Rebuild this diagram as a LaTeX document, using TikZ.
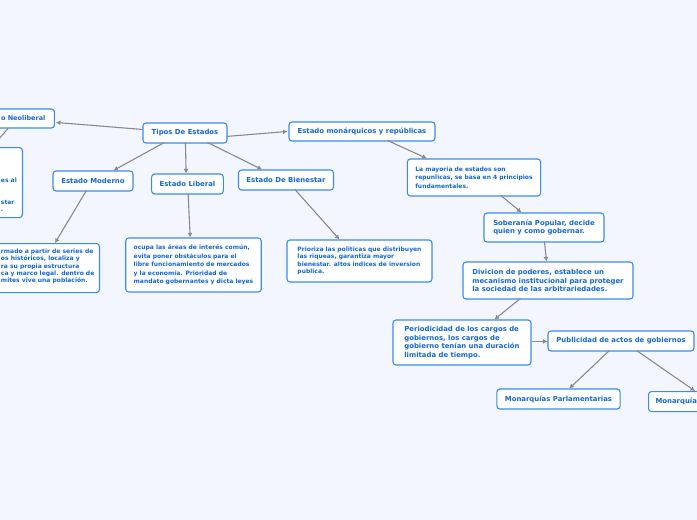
\documentclass[tikz,border=0pt]{standalone}
\usepackage{fontspec}
\setmainfont{DejaVu Sans}
\usetikzlibrary{arrows.meta,calc}
\definecolor{bgc}{RGB}{243,246,254}
\definecolor{bdr}{RGB}{58,140,234}
\definecolor{txt}{RGB}{20,104,210}
\definecolor{lnc}{RGB}{138,138,138}
\tikzset{
  box/.style={draw=bdr, line width=1.1pt, rounded corners=3pt, fill=white, text=txt,
    font=\bfseries\fontsize{6.9}{8.5}\selectfont, inner xsep=8pt, inner ysep=0pt, align=left},
  small/.style={font=\bfseries\fontsize{6.0}{8.5}\selectfont},
  smalltight/.style={font=\bfseries\fontsize{6.0}{7.4}\selectfont},
  plaintext/.style={inner sep=0pt, text=txt, align=left},
  conn/.style={draw=lnc, line width=1.1pt, -{Latex[length=4.5pt,width=5pt]}},
}
\begin{document}
\begin{tikzpicture}[x=1pt,y=-1pt]
\clip (0,0) rectangle (697,520);
\fill[bgc] (0,0) rectangle (697,520);

% left, partly cut off
\node[box, anchor=west, minimum height=19pt, inner xsep=9pt,
  font=\bfseries\fontsize{6.5}{8.5}\selectfont] (neo) at (-8.5,118.5) {o Neoliberal};
\node[box, anchor=north east, minimum width=60pt, minimum height=70pt] (left) at (23,147) {};
\node[plaintext, smalltight, anchor=north west] (lefttext) at (0.8,177.6) {es al\\[14.6pt]star\\.};

% centre
\node[box, minimum width=84pt, minimum height=20pt] (tipos) at (185,133) {Tipos De Estados};
\node[box, minimum width=80pt, minimum height=20pt] (moderno) at (93,181) {Estado Moderno};
\node[box, minimum width=71pt, minimum height=20pt] (liberal) at (187.5,184) {Estado Liberal};
\node[box, minimum width=94pt, minimum height=20pt] (bienestar) at (286,180) {Estado De Bienestar};

\node[box, anchor=north east, minimum width=130pt, minimum height=49pt] (modernodet) at (100,243) {};
\node[plaintext, smalltight, anchor=north west] (modernotext) at (0.8,248.6)
  {rmado a partir de series de\\os históricos, localiza y\\ra su propia estructura\\ca y marco legal. dentro de\\mites vive una población.};
\node[box, small, minimum width=135pt, minimum height=54pt] (liberaldet) at (193.5,265)
  {ocupa las áreas de interés común,\\evita poner obstáculos para el\\libre funcionamiento de mercados\\y la economía. Prioridad de\\mandato gobernantes y dicta leyes};
\node[box, smalltight, minimum width=145pt, minimum height=42pt] (bienestardet) at (359.5,261)
  {Prioriza las politicas que distribuyen\\las riqueas, garantiza mayor\\bienestar. altos indices de inversion\\publica.};

% right branch
\node[box, minimum width=146pt, minimum height=19pt] (monarq) at (362,131.5) {Estado monárquicos y repúblicas};
\node[box, small, minimum width=132pt, minimum height=37pt] (mayoria) at (474,177.5)
  {La mayoria de estados son\\repunlicas, se basa en 4 principios\\fundamentales.};
\node[box, minimum width=120pt, minimum height=29pt] (soberania) at (544,227.5)
  {Soberanía Popular, decide\\quien y como gobernar.};
\node[box, minimum width=170pt, minimum height=37pt] (divicion) at (548,280.5)
  {Divicion de poderes, establece un\\mecanismo institucional para proteger\\la sociedad de las arbitrariedades.};
\node[box, minimum width=138pt, minimum height=45pt] (periodicidad) at (462,342.5)
  {Periodicidad de los cargos de\\gobiernos, los cargos de\\gobierno tenían una duración\\limitada de tiempo.};
\node[box, minimum width=146pt, minimum height=20pt] (publicidad) at (621,341) {Publicidad de actos de gobiernos};
\node[box, minimum width=123pt, minimum height=20pt] (parl) at (558.5,399) {Monarquías Parlamentarias};
\node[box, anchor=north west, minimum height=20pt, inner xsep=7pt,
  text width=41pt] (monarqr) at (648,391) {Monarquía};

% connectors
\draw[conn] ($(tipos.north west)+(0,7)$) -- ($(neo.north east)+(1,14)$);
\draw[conn] ($(tipos.north west)+(84,14)$) -- ($(monarq.north west)+(-1,10)$);
\draw[conn] ($(tipos.north west)+(22,20)$) -- ($(moderno.north west)+(61,0)$);
\draw[conn] ($(tipos.north west)+(43,20)$) -- ($(liberal.north west)+(35,0)$);
\draw[conn] ($(tipos.north west)+(65,20)$) -- ($(bienestar.north west)+(24,0)$);
\draw[conn] ($(moderno.north west)+(34,20)$) -- ($(modernodet.north east)+(-45,0)$);
\draw[conn] ($(liberal.north west)+(37,20)$) -- ($(liberaldet.north west)+(65,0)$);
\draw[conn] ($(bienestar.north west)+(57,20)$) -- ($(bienestardet.north west)+(53,0)$);
\draw[conn] ($(neo.north west)+(16.5,20)$) -- ($(left.north east)+(-31,0)$);
\draw[conn] ($(monarq.north west)+(99,19)$) -- ($(mayoria.north west)+(20,0)$);
\draw[conn] ($(mayoria.north west)+(94,37)$) -- ($(soberania.north west)+(38,0)$);
\draw[conn] ($(soberania.north west)+(61,29)$) -- ($(divicion.north west)+(84,0)$);
\draw[conn] ($(divicion.north west)+(58,37)$) -- ($(periodicidad.north west)+(102,0)$);
\draw[conn] ($(periodicidad.north west)+(140,22)$) -- ($(publicidad.north west)+(0,11)$);
\draw[conn] ($(publicidad.north west)+(62,20)$) -- ($(parl.north west)+(73,0)$);
\draw[conn] ($(publicidad.north west)+(89,20)$) -- ($(monarqr.north west)+(47,0)$);
\end{tikzpicture}
\end{document}
